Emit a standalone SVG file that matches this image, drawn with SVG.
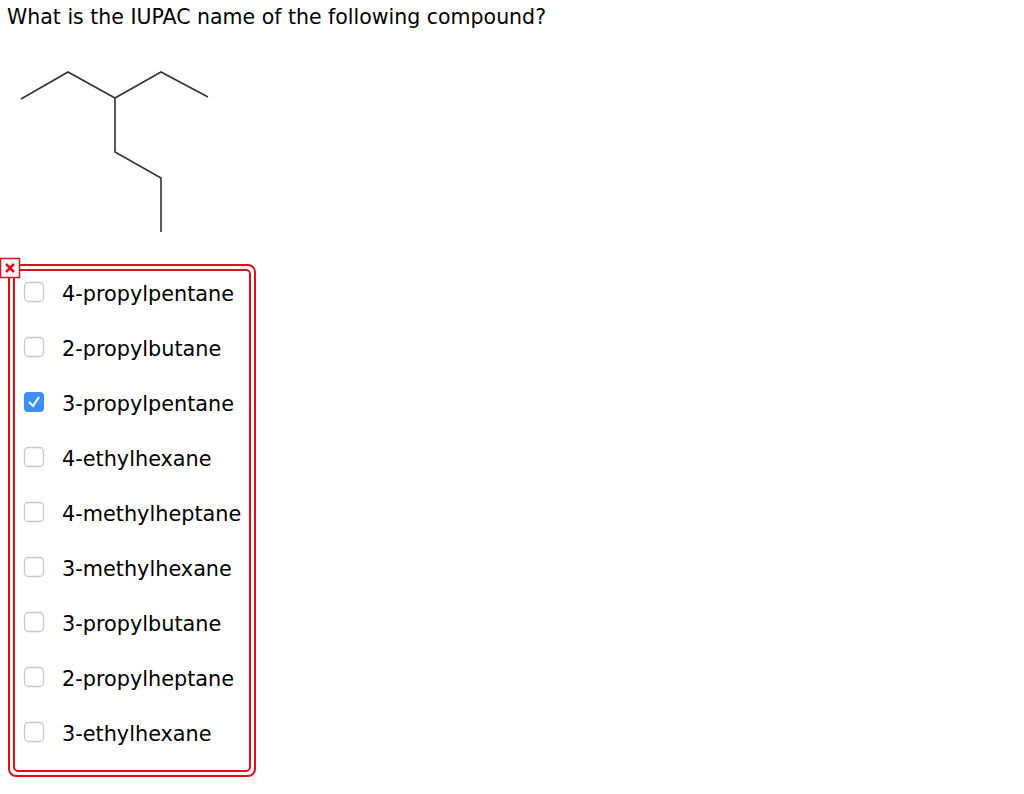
<svg xmlns="http://www.w3.org/2000/svg" width="1024" height="794" viewBox="0 0 1024 794">
<style>
.t{font-family:"DejaVu Sans",Verdana,sans-serif;font-size:20.8px;fill:#000}
.cb{fill:#fff;stroke:#c8c8c8;stroke-width:1.3}
.bond{fill:none;stroke:#333;stroke-width:1.6}
</style>
<rect width="1024" height="794" fill="#fff"/>
<text x="7" y="24" class="t" style="font-size:20.5px">What is the IUPAC name of the following compound?</text>
<g id="molecule">
<polyline class="bond" points="21,99 68,72 115,98 161,72 208,97"/>
<polyline class="bond" points="115,98 115,152 161,178 161,232"/>
</g>
<g id="answerbox">
<rect x="9" y="265" width="246" height="511" rx="7" fill="none" stroke="#e0101c" stroke-width="2"/>
<rect x="14" y="270" width="236" height="501" rx="4" fill="none" stroke="#e0101c" stroke-width="2"/>
<rect x="0.5" y="258.5" width="19" height="19" fill="#fff" stroke="#e0101c" stroke-width="1.5"/>
<path d="M6,264 L14,272 M14,264 L6,272" stroke="#e0101c" stroke-width="2.5"/>
</g>
<g id="options">
<rect class="cb" x="24.5" y="282.5" width="19" height="19" rx="4"/><text class="t" x="62" y="301">4-propylpentane</text>
<rect class="cb" x="24.5" y="337.5" width="19" height="19" rx="4"/><text class="t" x="62" y="356">2-propylbutane</text>
<rect x="24" y="392" width="20" height="20" rx="4" fill="#3d8ff5"/><path d="M29,402 L33,406 L39,397" fill="none" stroke="#fff" stroke-width="2"/><text class="t" x="62" y="411">3-propylpentane</text>
<rect class="cb" x="24.5" y="447.5" width="19" height="19" rx="4"/><text class="t" x="62" y="466">4-ethylhexane</text>
<rect class="cb" x="24.5" y="502.5" width="19" height="19" rx="4"/><text class="t" x="62" y="521">4-methylheptane</text>
<rect class="cb" x="24.5" y="557.5" width="19" height="19" rx="4"/><text class="t" x="62" y="576">3-methylhexane</text>
<rect class="cb" x="24.5" y="612.5" width="19" height="19" rx="4"/><text class="t" x="62" y="631">3-propylbutane</text>
<rect class="cb" x="24.5" y="667.5" width="19" height="19" rx="4"/><text class="t" x="62" y="686">2-propylheptane</text>
<rect class="cb" x="24.5" y="722.5" width="19" height="19" rx="4"/><text class="t" x="62" y="741">3-ethylhexane</text>
</g>
</svg>
